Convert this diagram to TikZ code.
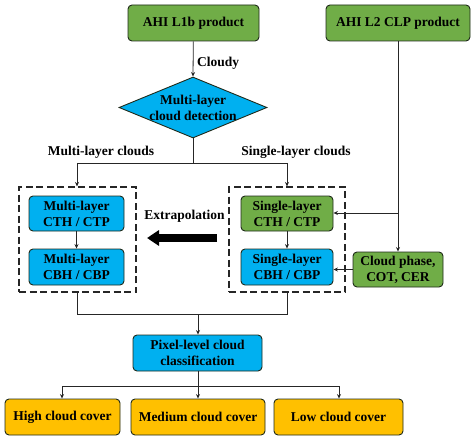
\documentclass[tikz,border=0pt]{standalone}
\usepackage{fontspec}
\setmainfont{Liberation Serif}
\usetikzlibrary{shapes.geometric,arrows.meta}
\definecolor{cgreen}{HTML}{70AD47}
\definecolor{cblue}{HTML}{00B0F0}
\definecolor{corange}{HTML}{FFC000}
\definecolor{cedge}{HTML}{1F2A1A}
\begin{document}
\begin{tikzpicture}[x=1pt,y=-1pt,
  every node/.style={font=\fontsize{13.5}{16}\selectfont\bfseries, inner sep=0pt, align=center},
  box/.style={draw=cedge, line width=0.9pt, rounded corners=4pt, minimum height=36pt},
  gbox/.style={box, fill=cgreen},
  bbox/.style={box, fill=cblue},
  obox/.style={box, fill=corange},
  dbox/.style={draw=black!85, line width=1.1pt, dash pattern=on 7pt off 3.5pt},
  conn/.style={draw=black!85, line width=0.8pt},
  arr/.style={conn, -{Stealth[length=4.5pt,width=4pt]}}
]
\useasboundingbox (0,0) rectangle (474,441);
% top
\node[gbox, minimum width=131pt] (l1b) at (193.5,23) {AHI L1b product};
\node[gbox, minimum width=144pt] (l2) at (398,23) {AHI L2 CLP product};
\node[diamond, draw=cedge, line width=0.9pt, fill=cblue, minimum width=148pt, minimum height=61pt] (det) at (193,107.5) {};
\node (dettxt) at (193,108) {Multi-layer\\cloud detection};
\draw[arr] (l1b) -- (det.north);
\node[anchor=west] (cloudy) at (197,63) {Cloudy};
% split
\coordinate (sp) at (193,163);
\coordinate (spl) at (77,163);
\coordinate (spr) at (287,163);
\node (mlc) at (101,152) {Multi-layer clouds};
\node (slc) at (296,152) {Single-layer clouds};
% dashed boxes
\node[dbox, minimum width=117pt, minimum height=105pt] (ldash) at (77.5,239.5) {};
\node[dbox, minimum width=116pt, minimum height=105pt] (rdash) at (287,239.5) {};
\draw[conn] (det.south) -- (sp);
\draw[conn] (spl) -- (spr);
\draw[arr] (spl) -- (ldash.north -| spl);
\draw[arr] (spr) -- (rdash.north -| spr);
% inner boxes
\node[bbox, minimum width=95pt, minimum height=35pt] (mcth) at (76.5,213.5) {Multi-layer\\CTH / CTP};
\node[bbox, minimum width=95pt] (mcbh) at (76.5,267) {Multi-layer\\CBH / CBP};
\node[gbox, minimum width=92pt, minimum height=35pt] (scth) at (287,213.5) {Single-layer\\CTH / CTP};
\node[bbox, minimum width=92pt] (scbh) at (287,267) {Single-layer\\CBH / CBP};
\node[gbox, minimum width=90pt, minimum height=35pt] (phase) at (398,269.5) {Cloud phase,\\COT, CER};
\draw[arr] (mcth) -- (mcbh);
\draw[arr] (scth) -- (scbh);
% L2 connections
\coordinate (br) at (398,213);
\draw[arr] (l2) -- (phase);
\draw[arr] (br) -- (br -| scth.east);
\draw[arr] (phase.west) -- (phase.west -| scbh.east);
% extrapolation
\node (extra) at (184.5,216) {Extrapolation};
\coordinate (ea) at (217,238);
\coordinate (eb) at (147,238);
\draw[line width=8pt, -{Triangle[length=12pt,width=15pt]}] (ea) -- (eb);
% merge
\coordinate (ml) at (77,314);
\coordinate (mr) at (287,314);
\coordinate (mm) at (198,314);
\draw[conn] (ldash.south -| ml) -- (ml) -- (mr) -- (rdash.south -| mr);
\node[bbox, minimum width=129pt] (pix) at (197.5,353) {Pixel-level cloud\\classification};
\draw[arr] (mm) -- (pix.north -| mm);
% bottom
\node[obox, minimum width=115pt] (high) at (62.5,417) {High cloud cover};
\node[obox, minimum width=134pt] (med) at (198,417) {Medium cloud cover};
\node[obox, minimum width=129pt] (low) at (338.5,417) {Low cloud cover};
\coordinate (bl) at (62,386);
\coordinate (bm) at (198,386);
\coordinate (brr) at (339,386);
\draw[conn] (pix.south -| bm) -- (bm);
\draw[conn] (bl) -- (brr);
\draw[arr] (bl) -- (high.north -| bl);
\draw[arr] (bm) -- (med.north -| bm);
\draw[arr] (brr) -- (low.north -| brr);
\end{tikzpicture}
\end{document}
